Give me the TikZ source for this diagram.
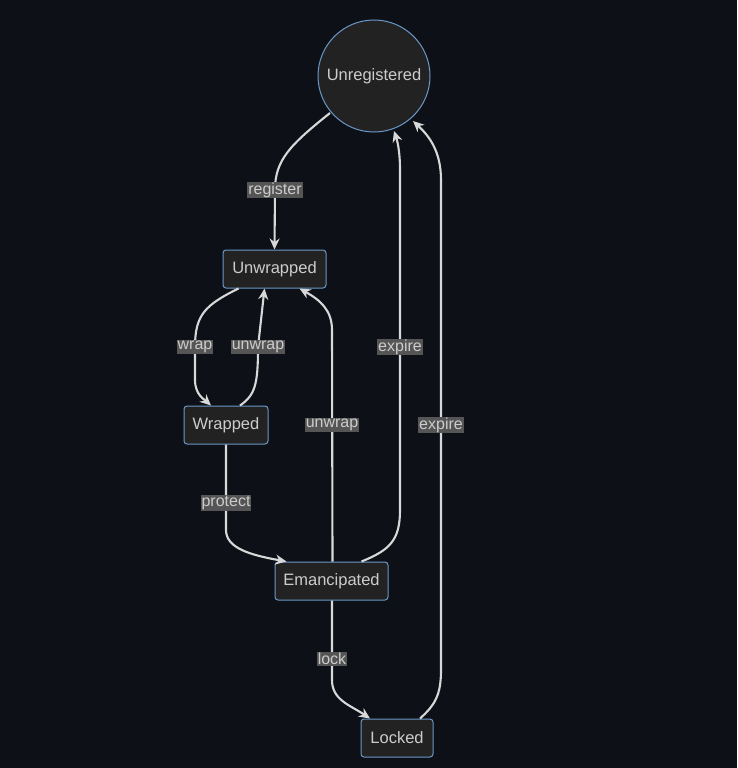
\documentclass[tikz,border=0pt]{standalone}
\usepackage{fontspec}
\setmainfont{Liberation Sans}
\usetikzlibrary{arrows.meta}
\definecolor{bg}{HTML}{0D1117}
\definecolor{nodefill}{HTML}{222222}
\definecolor{nodeline}{HTML}{6A98C8}
\definecolor{txt}{HTML}{CCCCCC}
\definecolor{edge}{HTML}{D8D8D8}
\definecolor{lblbg}{HTML}{555555}
\begin{document}
\begin{tikzpicture}[x=1pt,y=-1pt,
  st/.style={draw=nodeline,fill=nodefill,text=txt,rounded corners=3pt,line width=1pt,font=\fontsize{16.5}{19}\selectfont,inner sep=0pt},
  lbl/.style={fill=lblbg,text=txt,font=\fontsize{16}{18}\selectfont,inner sep=1pt},
  e/.style={draw=edge,line width=2.1pt,-{Stealth[length=11pt,width=10pt]}}]
\fill[bg] (0,0) rectangle (737,768);
\useasboundingbox (0,0) rectangle (737,768);
\node[circle,draw=nodeline,fill=nodefill,text=txt,line width=1pt,minimum size=112pt,inner sep=0pt,font=\fontsize{16.5}{19}\selectfont] (U) at (374,76) {Unregistered};
\node[st,minimum width=103pt,minimum height=38pt] (Uw) at (274.5,269) {Unwrapped};
\node[st,minimum width=84pt,minimum height=38pt] (W) at (226,425) {Wrapped};
\node[st,minimum width=113pt,minimum height=38pt] (E) at (331.5,581) {Emancipated};
\node[st,minimum width=72pt,minimum height=38pt] (L) at (397,738) {Locked};
\coordinate (u1) at (330,113);
\coordinate (u2) at (394,131);
\coordinate (u3) at (413,121);
\draw[e] (u1) .. controls (290,145) and (275,160) .. (275,190) -- (Uw.north);
\node[lbl] at (275,190) {register};
\draw[e] ([xshift=-36pt]Uw.south) .. controls (205,305) and (195,315) .. (195,347) -- (195,380) .. controls (195,395) and (205,400) .. ([xshift=-15pt]W.north);
\node[lbl] at (195,347) {wrap};
\draw[e] ([xshift=14pt]W.north) .. controls (255,395) and (258,385) .. (258,347) -- ([xshift=-10pt]Uw.south);
\node[lbl] at (258,347) {unwrap};
\draw[e] ([xshift=1pt]E.north) -- (332,330) .. controls (332,310) and (320,300) .. ([xshift=25pt]Uw.south);
\node[lbl] at (332,425) {unwrap};
\draw[e] ([xshift=30pt]E.north) .. controls (390,550) and (400,540) .. (400,510) -- (400,170) .. controls (400,150) and (397,140) .. (u2);
\node[lbl] at (400,347) {expire};
\draw[e] (W.south) -- (226,530) .. controls (226,548) and (250,555) .. ([xshift=-45pt]E.north);
\node[lbl] at (226,503) {protect};
\draw[e] ([xshift=0.5pt]E.south) -- (332,680) .. controls (332,700) and (350,705) .. ([xshift=-27pt]L.north);
\node[lbl] at (332,659) {lock};
\draw[e] ([xshift=23pt]L.north) .. controls (435,705) and (441,695) .. (441,670) -- (441,180) .. controls (441,150) and (428,135) .. (u3);
\node[lbl] at (441,425) {expire};
\end{tikzpicture}
\end{document}
